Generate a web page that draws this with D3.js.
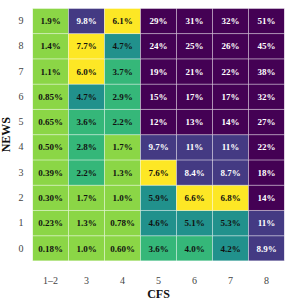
<!DOCTYPE html>
<html><head><meta charset="utf-8">
<script src="https://cdn.jsdelivr.net/npm/d3@7"></script>
<style>body{margin:0;background:#fff}svg{display:block}</style>
</head><body><svg id="c" width="295" height="300"></svg>
<script>
const cfs = ["1\u20132","3","4","5","6","7","8"];
const news = ["0","1","2","3","4","5","6","7","8","9"];
// values[newsIndex][cfsIndex], percent
const row0 = [0.18, 1.0, 0.60, 3.6, 4.0, 4.2, 8.9];
const row1 = [0.23, 1.3, 0.78, 4.6, 5.1, 5.3, 11];
const row2 = [0.30, 1.7, 1.0, 5.9, 6.6, 6.8, 14];
const row3 = [0.39, 2.2, 1.3, 7.6, 8.4, 8.7, 18];
const row4 = [0.50, 2.8, 1.7, 9.7, 11, 11, 22];
const row5 = [0.65, 3.6, 2.2, 12, 13, 14, 27];
const row6 = [0.85, 4.7, 2.9, 15, 17, 17, 32];
const row7 = [1.1, 6.0, 3.7, 19, 21, 22, 38];
const row8 = [1.4, 7.7, 4.7, 24, 25, 26, 45];
const row9 = [1.9, 9.8, 6.1, 29, 31, 32, 51];
const labels0 = ["0.18%","1.0%","0.60%","3.6%","4.0%","4.2%","8.9%"];
const labels1 = ["0.23%","1.3%","0.78%","4.6%","5.1%","5.3%","11%"];
const labels2 = ["0.30%","1.7%","1.0%","5.9%","6.6%","6.8%","14%"];
const labels3 = ["0.39%","2.2%","1.3%","7.6%","8.4%","8.7%","18%"];
const labels4 = ["0.50%","2.8%","1.7%","9.7%","11%","11%","22%"];
const labels5 = ["0.65%","3.6%","2.2%","12%","13%","14%","27%"];
const labels6 = ["0.85%","4.7%","2.9%","15%","17%","17%","32%"];
const labels7 = ["1.1%","6.0%","3.7%","19%","21%","22%","38%"];
const labels8 = ["1.4%","7.7%","4.7%","24%","25%","26%","45%"];
const labels9 = ["1.9%","9.8%","6.1%","29%","31%","32%","51%"];
const thresholds = [2, 4.1, 6, 8, 11.5];
const palette = ["#8bd646","#35b779","#21918c","#fde725","#443a83","#440154"];
const textColors = ["#111","#111","#111","#111","#fff","#fff"];

const values=[row0,row1,row2,row3,row4,row5,row6,row7,row8,row9];
const labels=[labels0,labels1,labels2,labels3,labels4,labels5,labels6,labels7,labels8,labels9];
const color=d3.scaleThreshold().domain(thresholds).range(palette);
const tcolor=d3.scaleThreshold().domain(thresholds).range(textColors);
const cells=[];
news.forEach((n,i)=>cfs.forEach((c,j)=>cells.push({n,c,v:values[i][j],l:labels[i][j]})));

const svg=d3.select("#c");
const m={l:32.5,r:10.5,t:8.3,b:39};
const W=295,H=300;
const x=d3.scaleBand().domain(cfs).range([m.l,W-m.r]);
const y=d3.scaleBand().domain(news.slice().reverse()).range([m.t,H-m.b]);
const serif="'Liberation Serif','Times New Roman',serif";

svg.append("g").selectAll("rect").data(cells).join("rect")
 .attr("x",d=>x(d.c)).attr("y",d=>y(d.n)).attr("width",x.bandwidth()).attr("height",y.bandwidth())
 .attr("fill",d=>color(d.v)).attr("stroke","rgba(255,255,255,0.35)").attr("stroke-width",1);
svg.append("rect").attr("x",m.l).attr("y",m.t).attr("width",W-m.r-m.l).attr("height",H-m.b-m.t)
 .attr("fill","none").attr("stroke","rgba(255,255,255,0.5)").attr("stroke-width",1);

svg.append("g").selectAll("text").data(cells).join("text")
 .attr("x",d=>x(d.c)+x.bandwidth()/2).attr("y",d=>y(d.n)+y.bandwidth()/2)
 .attr("text-anchor","middle").attr("dy","0.35em")
 .attr("font-family",serif).attr("font-weight","bold").attr("font-size",9)
 .attr("fill",d=>tcolor(d.v)).text(d=>d.l);

const xa=svg.append("g").attr("transform",`translate(0,${H-m.b})`)
 .call(d3.axisBottom(x).tickSize(0).tickPadding(16));
const ya=svg.append("g").attr("transform",`translate(${m.l},0)`)
 .call(d3.axisLeft(y).tickSize(0).tickPadding(9));
[xa,ya].forEach(a=>{a.select(".domain").remove();
 a.selectAll("text").attr("font-family",serif).attr("font-size",10).attr("fill","#444");});

svg.append("text").attr("x",(m.l+W-m.r)/2).attr("y",298).attr("text-anchor","middle")
 .attr("font-family",serif).attr("font-weight","bold").attr("font-size",12).attr("fill","#111").text("CFS");
svg.append("text").attr("transform",`translate(10,${(m.t+H-m.b)/2}) rotate(-90)`).attr("text-anchor","middle")
 .attr("font-family",serif).attr("font-weight","bold").attr("font-size",12).attr("fill","#111").text("NEWS");
</script></body></html>
